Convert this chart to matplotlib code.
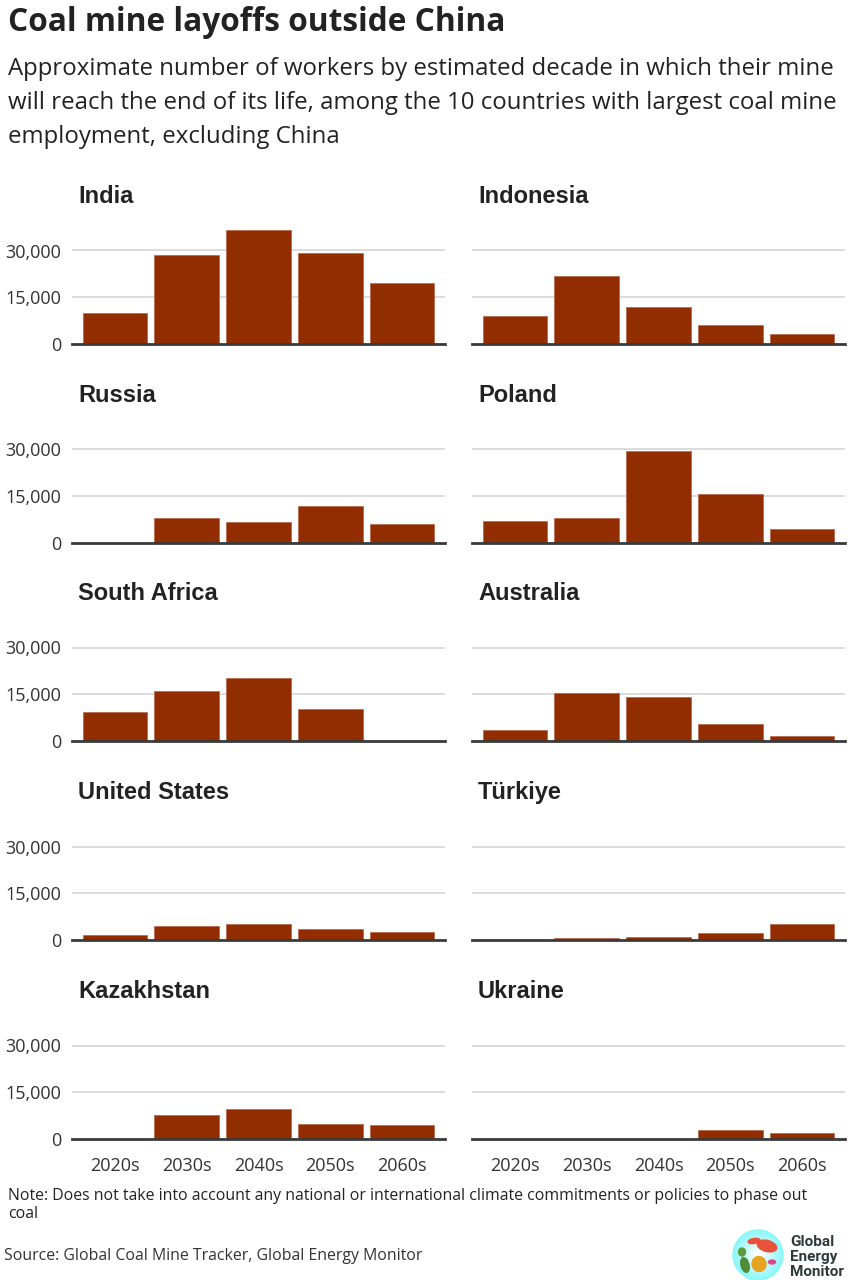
import matplotlib.pyplot as plt
from matplotlib.patches import Circle, Ellipse
import numpy as np

# decades on the x axis
decades = ['2020s', '2030s', '2040s', '2050s', '2060s']

# approximate number of workers by decade of mine end of life
india = [9800, 28700, 36500, 29300, 19500]
indonesia = [9000, 21800, 11900, 6100, 3200]
russia = [0, 8000, 6800, 11900, 6100]
poland = [7000, 8000, 29500, 15700, 4500]
south_africa = [9300, 16000, 20200, 10300, 0]
australia = [3500, 15300, 14100, 5500, 1600]
united_states = [1600, 4500, 5100, 3500, 2600]
turkiye = [100, 600, 1000, 2300, 5100]
kazakhstan = [0, 7700, 9600, 4800, 4500]
ukraine = [0, 0, 0, 2900, 1900]

countries = ['India', 'Indonesia', 'Russia', 'Poland', 'South Africa',
             'Australia', 'United States', 'Türkiye', 'Kazakhstan', 'Ukraine']
values = [india, indonesia, russia, poland, south_africa,
          australia, united_states, turkiye, kazakhstan, ukraine]

y_ticks = [0, 15000, 30000]
y_labels = ['0', '15,000', '30,000']

W, H = 853, 1280
BAR = '#922d00'
TXT = '#222222'


def rect(x0, y0, x1, y1):
    # pixel box -> figure fraction
    return [x0 / W, 1 - y1 / H, (x1 - x0) / W, (y1 - y0) / H]


def main():
    plt.rcParams['font.family'] = ['Open Sans', 'DejaVu Sans']
    fig = plt.figure(figsize=(W / 100, H / 100), dpi=100)
    fig.patch.set_facecolor('white')

    fig.text(8 / W, 1 - 31 / H, 'Coal mine layoffs outside China',
             fontsize=22.8, fontweight='bold', color=TXT, va='baseline')
    subtitle = ['Approximate number of workers by estimated decade in which their mine',
                'will reach the end of its life, among the 10 countries with largest coal mine',
                'employment, excluding China']
    for i, line in enumerate(subtitle):
        fig.text(8 / W, 1 - (75 + i * 34) / H, line, fontsize=17.3,
                 color=TXT, va='baseline')

    ymax = 38000
    px_per = 93.5 / 30000
    zeros = [344, 543, 741, 940, 1139]
    cols = [(72, 445), (472, 845)]

    for k, (name, vals) in enumerate(zip(countries, values)):
        r, c = divmod(k, 2)
        x0, x1 = cols[c]
        yb = zeros[r]
        yt = yb - ymax * px_per
        ax = fig.add_axes(rect(x0, yt, x1, yb))
        x = np.arange(len(decades))
        ax.bar(x, vals, width=0.9, color=BAR, edgecolor='#b5624a',
               linewidth=0.5, zorder=3)
        ax.set_xlim(-0.6, 4.6)
        ax.set_ylim(0, ymax)
        for s in ax.spines.values():
            s.set_visible(False)
        for t in y_ticks[1:]:
            ax.axhline(t, color='#d9d9d9', lw=1.3, zorder=1)
        ax.axhline(0, color='#3a3a3a', lw=2.0, zorder=4, clip_on=False)
        ax.set_yticks(y_ticks)
        ax.tick_params(length=0, labelsize=13, colors='#333333')
        if c == 0:
            ax.set_yticklabels(y_labels)
            ax.tick_params(axis='y', pad=8)
        else:
            ax.set_yticklabels([])
        ax.set_xticks(x)
        if r == 4:
            ax.set_xticklabels(decades)
            ax.tick_params(axis='x', pad=13)
        else:
            ax.set_xticklabels([])
        fig.text((x0 + 6) / W, 1 - (yb - 141) / H, name, fontsize=17,
                 fontweight='bold', family=['Liberation Sans', 'DejaVu Sans'],
                 color=TXT, va='baseline')

    fig.text(8 / W, 1 - 1200 / H,
             'Note: Does not take into account any national or international climate commitments or policies to phase out',
             fontsize=11.4, color=TXT, va='baseline')
    fig.text(8 / W, 1 - 1218 / H, 'coal', fontsize=11.4, color=TXT, va='baseline')
    fig.text(4 / W, 1 - 1260 / H, 'Source: Global Coal Mine Tracker, Global Energy Monitor',
             fontsize=11.4, color='#333333', va='baseline')

    # logo
    lax = fig.add_axes(rect(728, 1226, 788, 1284))
    lax.set_xlim(-30, 30)
    lax.set_ylim(-29, 29)
    lax.set_aspect('equal')
    lax.axis('off')
    for rr, col in zip(np.linspace(25, 2, 12), np.linspace(0.55, 1.0, 12)):
        lax.add_patch(Circle((0, 0), rr, color=(col, 0.93 + 0.07 * col, 0.95 + 0.05 * col)))
    lax.add_patch(Ellipse((9, 9), 20, 11, angle=-15, color='#e8513a'))
    lax.add_patch(Ellipse((-4, 14), 12, 5, angle=10, color='#e8513a'))
    lax.add_patch(Ellipse((-16, 3), 7, 8, color='#5c9a3c'))
    lax.add_patch(Ellipse((-13, -10), 8, 15, angle=15, color='#4e8c3a'))
    lax.add_patch(Ellipse((1, -9), 14, 15, angle=10, color='#e6a420'))
    lax.add_patch(Ellipse((14, -7), 7, 4, color='#d6478f'))
    for i, w in enumerate(['Global', 'Energy', 'Monitor']):
        fig.text(790 / W, 1 - (1246 + i * 15) / H, w, fontsize=11,
                 fontweight='bold', family=['Roboto', 'DejaVu Sans'],
                 color='#2e3a3a', va='baseline')

    fig.savefig('out.png', dpi=100)


if __name__ == '__main__':
    main()
